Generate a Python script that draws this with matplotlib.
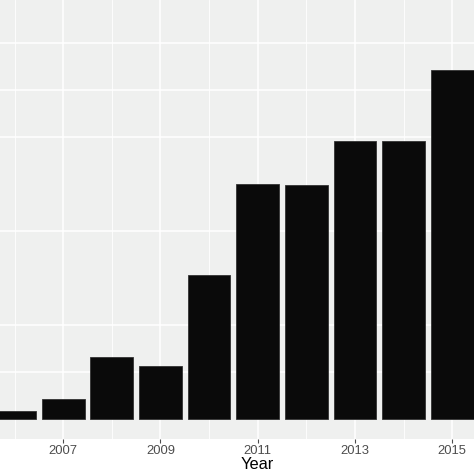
import matplotlib
matplotlib.use('Agg')
import matplotlib.pyplot as plt
import numpy as np

plt.rcParams['font.family'] = ['Liberation Sans', 'DejaVu Sans']

# Donnees (unites arbitraires, axe y coupe)
annees = [2006, 2007, 2008, 2009, 2010, 2011, 2012, 2013, 2014, 2015]
valeurs = [0.85, 2.1, 6.6, 5.6, 15.3, 25.0, 24.9, 29.6, 29.6, 37.1]
ticks_x = [2007, 2009, 2011, 2013, 2015]
ticks_x_min = [2006, 2008, 2010, 2012, 2014]
grille_y = [5, 10, 20, 30, 35, 40]

fig = plt.figure(figsize=(4.74, 4.74), dpi=100)
ax = fig.add_axes([0, 35/474, 1, 439/474])
ax.set_facecolor('#eff0ef')

ax.bar(annees, valeurs, width=0.88, color='#0a0a0a', edgecolor='#333333', linewidth=0.6, zorder=3)

ax.set_xlim(2005.7, 2015.45)
ax.set_ylim(-2.13, 44.6)

ax.set_xticks(ticks_x)
ax.set_xticks(ticks_x_min, minor=True)
ax.set_yticks(grille_y)
ax.set_yticklabels([])
ax.grid(True, which='major', color='white', linewidth=1.1, zorder=1)
ax.grid(True, which='minor', axis='x', color='white', linewidth=0.6, zorder=1)
ax.tick_params(axis='y', length=0)
ax.tick_params(axis='x', which='major', length=3, width=0.8, color='#4d4d4d', labelsize=9.4, labelcolor='#4d4d4d', pad=1.5)
ax.tick_params(axis='x', which='minor', length=0)

for s in ax.spines.values():
    s.set_visible(False)

# Le panneau est coupe a gauche : le titre est centre sur le panneau complet
ax.set_xlabel('Year', fontsize=11.8, color='black')
ax.xaxis.set_label_coords(257/474, -0.041)

fig.savefig('out.png', dpi=100)
